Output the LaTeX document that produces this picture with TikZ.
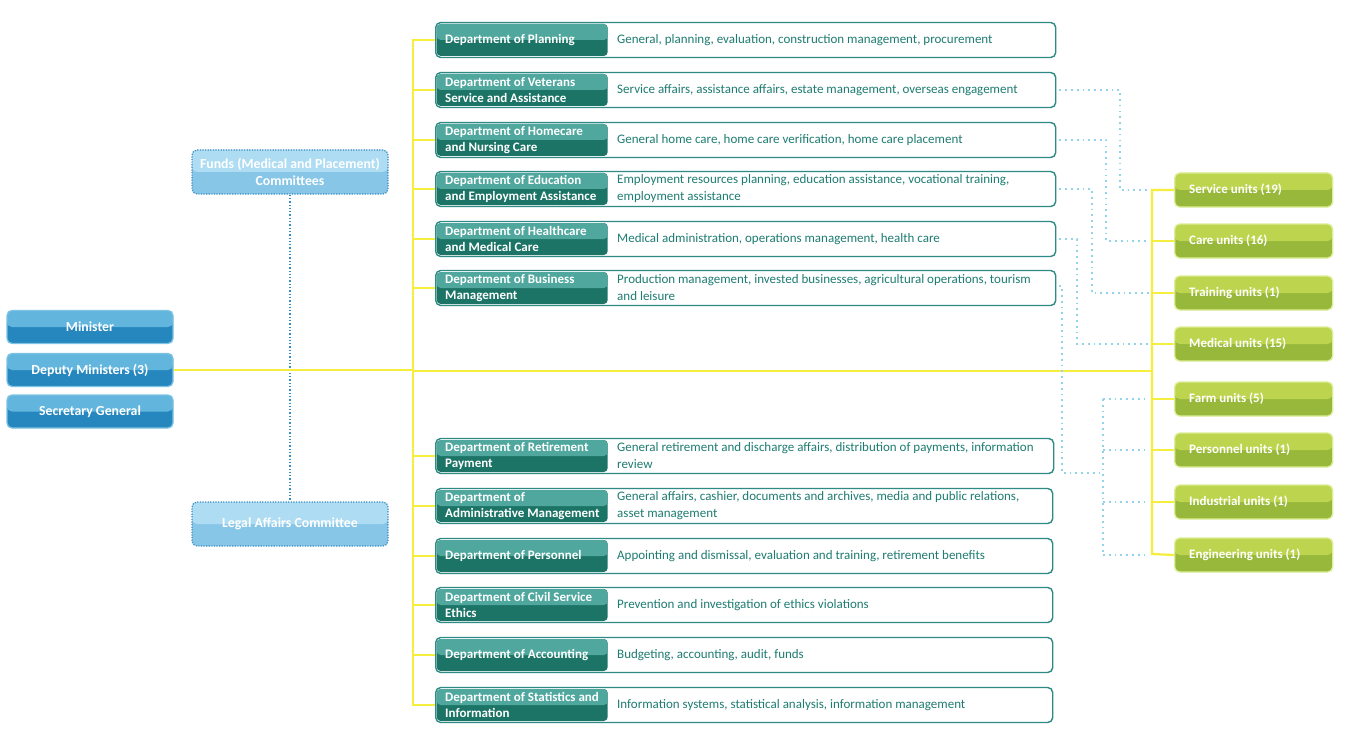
\documentclass[tikz,border=0pt]{standalone}
\usepackage{fontspec}
\setmainfont{Carlito}
\definecolor{tealB}{HTML}{2E8A84}
\definecolor{tealL}{HTML}{4FA79E}
\definecolor{tealD}{HTML}{1C7466}
\definecolor{descT}{HTML}{1E7C72}
\definecolor{yel}{HTML}{F5EE3C}
\definecolor{dotc}{HTML}{92D4EA}
\definecolor{cmtdot}{HTML}{3A8CC2}
\definecolor{blueL}{HTML}{62B6DE}
\definecolor{blueD}{HTML}{2686BE}
\definecolor{blueB}{HTML}{7CC2E2}
\definecolor{cmL}{HTML}{AEDCF2}
\definecolor{cmD}{HTML}{88C6E8}
\definecolor{grL}{HTML}{BDD44E}
\definecolor{grD}{HTML}{97B83A}
\definecolor{grB}{HTML}{DCEE96}
\tikzset{
  twotone/.style 2 args={fill=#2, path picture={\fill[#1] (path picture bounding box.north west) rectangle (path picture bounding box.east);}},
  deptbox/.style={draw=tealB, line width=1.4pt, fill=white, rounded corners=5pt, inner sep=0pt, minimum height=35pt, anchor=west},
  deptlab/.style={twotone={tealL}{tealD}, rounded corners=4pt, inner sep=0pt, minimum width=171pt, minimum height=32pt, anchor=west},
  labtext/.style={text=white, font=\fontsize{13}{16}\selectfont\bfseries, align=left, anchor=west, inner sep=0pt},
  desctext/.style={text=descT, font=\fontsize{13}{17}\selectfont, align=left, anchor=west, inner sep=0pt},
  bluebox/.style={twotone={blueL}{blueD}, draw=blueB, line width=1.3pt, rounded corners=5pt, minimum width=166pt, minimum height=33pt, text=white, font=\fontsize{13.8}{16}\selectfont\bfseries, inner sep=0pt},
  cmtbox/.style={twotone={cmL}{cmD}, draw=cmtdot, line width=1.2pt, dash pattern=on 1.2pt off 1.4pt, rounded corners=5pt, minimum width=196pt, minimum height=44pt, text=white, font=\fontsize{13.8}{17}\selectfont\bfseries, align=center, inner sep=0pt},
  grbox/.style={twotone={grL}{grD}, draw=grB, line width=1.3pt, rounded corners=5pt, minimum width=158pt, minimum height=34pt, anchor=west, inner sep=0pt},
  grtext/.style={text=white, font=\fontsize{13}{15}\selectfont\bfseries, anchor=west, inner sep=0pt},
  yl/.style={draw=yel, line width=2.2pt},
  dt/.style={draw=dotc, line width=1.7pt, dash pattern=on 1.7pt off 4.1pt},
  cdt/.style={draw=cmtdot, line width=1.3pt, dash pattern=on 1.3pt off 2pt},
}
\newcommand\deptrow[5]{%
  \node[deptbox, minimum width=#3] (#1) at (435,#2) {};
  \node[deptlab] (#1l) at (436.5,#2) {};
  \node[labtext] (#1t) at (445,#2) {#4};
  \node[desctext] (#1d) at (617,#2) {#5};
}
\newcommand\unitrow[3]{%
  \node[grbox] (#1) at (1174,#2) {};
  \node[grtext] (#1t) at (1189,#2) {#3};
}
\begin{document}
\begin{tikzpicture}[x=1pt,y=-1pt]
\useasboundingbox[fill=white] (0,0) rectangle (1348,738);
% coordinates for spines
\coordinate (ltop) at (413,40);
\coordinate (lbot) at (413,705);
\coordinate (rtop) at (1152,190);
\coordinate (rbot) at (1152,554);
\coordinate (k1) at (1120,0);
\coordinate (k2) at (1106,0);
\coordinate (k3) at (1092,0);
\coordinate (k4) at (1077,0);
\coordinate (k5) at (1062,0);
\coordinate (jn) at (1103,473);
\coordinate (dend) at (1149,0);

% committees
\node[cmtbox] (funds) at (290,172) {Funds (Medical and Placement)\\Committees};
\node[cmtbox] (legal) at (290,524) {Legal Affairs Committee};
\draw[cdt] (funds.south) -- (legal.north);

% main yellow line
\draw[yl] (413,371) -- (1152,371);

% departments
\deptrow{d1}{40}{620pt}{Department of Planning}{General, planning, evaluation, construction management, procurement}
\deptrow{d2}{90}{620pt}{Department of Veterans\\Service and Assistance}{Service affairs, assistance affairs, estate management, overseas engagement}
\deptrow{d3}{140}{620pt}{Department of Homecare\\and Nursing Care}{General home care, home care verification, home care placement}
\deptrow{d4}{189}{620pt}{Department of Education\\and Employment Assistance}{Employment resources planning, education assistance, vocational training,\\employment assistance}
\deptrow{d5}{239}{620pt}{Department of Healthcare\\and Medical Care}{Medical administration, operations management, health care}
\deptrow{d6}{288}{620pt}{Department of Business\\Management}{Production management, invested businesses, agricultural operations, tourism\\and leisure}
\deptrow{d7}{456}{618pt}{Department of Retirement\\Payment}{General retirement and discharge affairs, distribution of payments, information\\review}
\deptrow{d8}{506}{617pt}{Department of\\Administrative Management}{General affairs, cashier, documents and archives, media and public relations,\\asset management}
\deptrow{d9}{556}{617pt}{Department of Personnel}{Appointing and dismissal, evaluation and training, retirement benefits}
\deptrow{d10}{605}{617pt}{Department of Civil Service\\Ethics}{Prevention and investigation of ethics violations}
\deptrow{d11}{655}{617pt}{Department of Accounting}{Budgeting, accounting, audit, funds}
\deptrow{d12}{705}{617pt}{Department of Statistics and\\Information}{Information systems, statistical analysis, information management}

% leaders
\node[bluebox] (min) at (90,327) {Minister};
\node[bluebox] (dep) at (90,370) {Deputy Ministers (3)};
\node[bluebox] (sec) at (90,411.5) {Secretary General};

% units
\unitrow{u1}{190}{Service units (19)}
\unitrow{u2}{241}{Care units (16)}
\unitrow{u3}{293}{Training units (1)}
\unitrow{u4}{344}{Medical units (15)}
\unitrow{u5}{399}{Farm units (5)}
\unitrow{u6}{450}{Personnel units (1)}
\unitrow{u7}{502}{Industrial units (1)}
\unitrow{u8}{555}{Engineering units (1)}

% yellow connectors
\draw[yl] (dep.east) -- (ltop |- dep.east);
\draw[yl] (d1.west) -- (ltop) -- (lbot) -- (d12.west);
\foreach \n in {d2,d3,d4,d5,d6,d7,d8,d9,d10,d11}
  \draw[yl] (\n.west) -- (ltop |- \n.west);
\draw[yl] (u1.west) -- (rtop) -- (rbot) -- (u8.west);
\foreach \n in {u2,u3,u4,u5,u6,u7}
  \draw[yl] (\n.west) -- (rtop |- \n.west);

% dotted connectors
\draw[dt] ([xshift=3pt]d2.east) -| (k1 |- u1.west) -- (dend |- u1.west);
\draw[dt] ([xshift=3pt]d3.east) -| (k2 |- u2.west) -- (dend |- u2.west);
\draw[dt] ([xshift=3pt]d4.east) -| (k3 |- u3.west) -- (dend |- u3.west);
\draw[dt] ([xshift=3pt]d5.east) -| (k4 |- u4.west) -- (dend |- u4.west);
\draw[dt] ([xshift=3pt,yshift=2pt]d6.east) -| (k5 |- jn) -- (jn);
\draw[dt] (jn |- u5.west) -- (jn |- u8.west);
\foreach \n in {u5,u6,u7,u8}
  \draw[dt] (jn |- \n.west) -- (dend |- \n.west);
\end{tikzpicture}
\end{document}
